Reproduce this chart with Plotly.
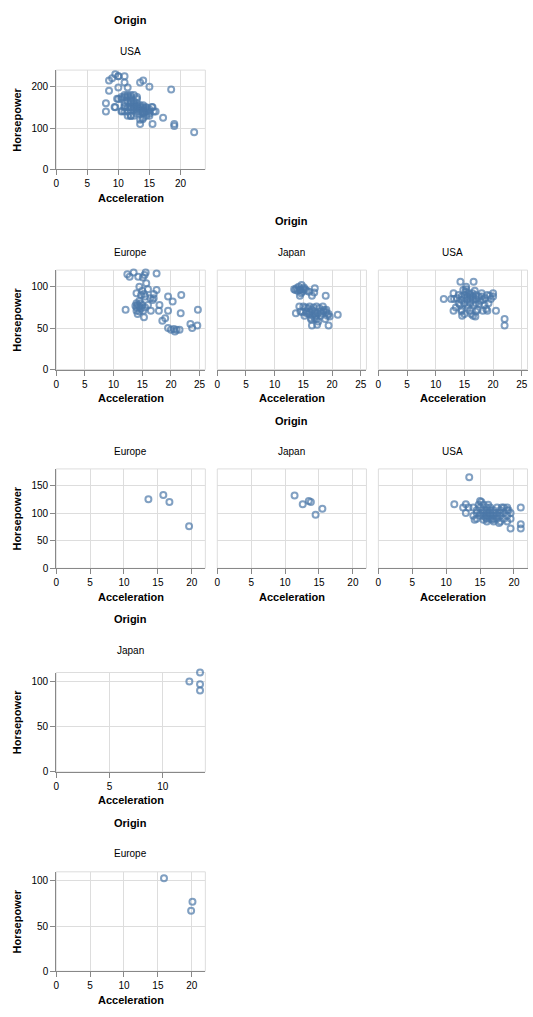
import plotly.graph_objects as go

# ---------------- data (Acceleration, Horsepower) ----------------
cyl8_usa = [
    (9.5, 230), (10.0, 225), (10.0, 225), (11.0, 225), (9.0, 220), (8.5, 215),
    (11.0, 210), (13.5, 210), (14.0, 215), (15.0, 200), (18.5, 193), (8.5, 190),
    (10.0, 198), (11.5, 198), (8.0, 160), (8.0, 140), (9.5, 150), (10.0, 170),
    (17.2, 125), (19.0, 110), (19.0, 105), (22.2, 90), (13.5, 110), (15.5, 110),
    (10.5, 140), (12.0, 130), (16.0, 140), (15.5, 150), (15.0, 130), (13.9, 121),
    (11.5, 180), (12.0, 180), (11.0, 180), (12.5, 180),
    (11.0, 175), (11.5, 175), (12.0, 175), (10.5, 175), (13.0, 175),
    (10.5, 170), (12.0, 170), (13.0, 170),
    (11.5, 165), (12.0, 165), (12.5, 165),
    (11.0, 160), (12.0, 160), (13.0, 160), (12.5, 158),
    (13.5, 155), (14.0, 155), (11.0, 153), (13.0, 153), (12.5, 153),
    (11.0, 150), (12.0, 150), (12.5, 150), (13.0, 150), (13.5, 150), (14.0, 150),
    (14.5, 150), (11.5, 150), (12.0, 150), (13.0, 150), (14.5, 149),
    (12.0, 145), (13.0, 145), (13.5, 145), (14.0, 145), (14.5, 145), (12.5, 145), (15.0, 145),
    (11.0, 140), (13.0, 140), (14.0, 140), (14.5, 140), (13.5, 140), (11.5, 140),
    (15.0, 140), (15.7, 140), (14.0, 139), (14.0, 137),
    (13.0, 135), (14.0, 135), (15.0, 135),
    (12.5, 130), (14.5, 130), (11.5, 130), (12.0, 129), (14.0, 125), (13.5, 120),
    (9.8, 171), (9.4, 151), (10.6, 141), (15.4, 151),
]

cyl4_europe = [
    (12.4, 115), (12.8, 112), (13.5, 117), (14.3, 112), (15.1, 111), (15.6, 117),
    (15.4, 114), (17.5, 116), (15.7, 104), (14.5, 100), (14.0, 92), (15.3, 91),
    (17.0, 91), (17.5, 96), (15.0, 95), (19.5, 88), (21.8, 90), (20.3, 82),
    (16.8, 84), (18.0, 78), (17.9, 71), (19.5, 71), (21.7, 68), (24.7, 72),
    (12.1, 72), (15.3, 63), (16.5, 71), (18.5, 59), (19.0, 62), (19.5, 50),
    (20.0, 48), (20.7, 46), (21.5, 48), (20.5, 49), (23.4, 55), (23.7, 50),
    (24.6, 53), (21.0, 48),
    (14.0, 75), (14.2, 78), (14.5, 76), (14.0, 80), (14.5, 70), (15.0, 78),
    (14.8, 74), (15.5, 75), (14.0, 71), (13.8, 77), (14.7, 80), (15.2, 71),
    (14.5, 83), (16.0, 78), (14.2, 67), (16.4, 86), (15.5, 88), (17.0, 86),
    (16.0, 97), (14.8, 90),
]

cyl4_japan = [
    (13.4, 97), (13.8, 98), (14.7, 102), (14.4, 96), (15.1, 99), (15.6, 95),
    (17.0, 98), (16.9, 93), (14.4, 89), (16.5, 89), (18.9, 89), (14.0, 95),
    (14.5, 97), (14.8, 94), (15.0, 97), (14.2, 100), (13.6, 96), (15.3, 97),
    (14.6, 92), (16.0, 94),
    (13.7, 68), (14.3, 76), (15.0, 76), (16.1, 76), (17.3, 76), (18.4, 76),
    (19.4, 67), (21.0, 66), (16.5, 53), (17.4, 54), (19.4, 53), (16.3, 62),
    (17.3, 61), (18.8, 61), (15.5, 70), (16.0, 67), (16.5, 72), (17.0, 70),
    (17.5, 68), (18.0, 65), (18.5, 70), (15.8, 74), (16.8, 75), (17.8, 74),
    (19.0, 69), (19.2, 65), (15.2, 65), (14.9, 69), (16.2, 70), (17.2, 65),
    (18.2, 68), (16.4, 60), (18.6, 72), (17.6, 58), (16.9, 67), (15.4, 75),
    (19.0, 72), (14.5, 70), (17.0, 62), (18.0, 70), (16.6, 65), (15.6, 68),
    (19.6, 64),
]

cyl4_usa = [
    (14.3, 106), (16.6, 106), (11.4, 85), (12.7, 85), (13.1, 92), (15.3, 97),
    (20.0, 92), (19.4, 89), (20.5, 71), (22.0, 61), (22.0, 53), (13.1, 71),
    (14.6, 65), (16.5, 65), (16.9, 64), (18.8, 73), (17.3, 72),
    (14.0, 90), (14.5, 88), (15.0, 90), (15.5, 88), (16.0, 90), (16.5, 88),
    (17.0, 85), (17.5, 88), (18.0, 88), (14.5, 84), (15.0, 86), (15.5, 84),
    (16.0, 86), (16.5, 84), (17.0, 90), (18.2, 84), (14.0, 80), (15.0, 80),
    (16.0, 80), (17.0, 80), (13.7, 86), (15.8, 92), (16.4, 92), (15.2, 94),
    (14.8, 96), (18.0, 92), (19.0, 90), (19.6, 85), (19.2, 80), (17.5, 79),
    (18.5, 78), (16.7, 78), (15.5, 78), (14.2, 78), (13.5, 75), (14.5, 70),
    (15.0, 67), (16.2, 67), (17.0, 70), (18.2, 71), (19.0, 71), (14.5, 72),
    (16.0, 71), (15.6, 75), (17.8, 83), (13.2, 85), (15.3, 100), (16.2, 88),
    (16.8, 95), (20.0, 88), (18.6, 86),
]

cyl6_europe = [(13.6, 125), (15.8, 133), (16.7, 120), (19.6, 76)]

cyl6_japan = [(11.4, 132), (12.6, 116), (13.5, 122), (13.8, 120), (14.5, 97), (15.5, 108)]

cyl6_usa = [
    (13.4, 165), (11.2, 116), (12.5, 110), (12.9, 116), (12.9, 100), (13.3, 110),
    (15.0, 122), (19.5, 72), (21.0, 110), (21.0, 80), (21.0, 72),
    (14.0, 110), (14.5, 105), (14.5, 100), (15.0, 110), (15.0, 100), (15.0, 95),
    (15.5, 105), (15.5, 100), (15.5, 95), (15.5, 88), (16.0, 110), (16.0, 105),
    (16.0, 100), (16.0, 95), (16.0, 90), (16.0, 85), (16.5, 110), (16.5, 105),
    (16.5, 100), (16.5, 95), (16.5, 90), (17.0, 105), (17.0, 100), (17.0, 95),
    (17.0, 90), (17.0, 85), (17.5, 100), (17.5, 95), (17.5, 90), (18.0, 105),
    (18.0, 100), (18.0, 95), (18.5, 110), (18.5, 100), (18.5, 90), (19.0, 105),
    (19.0, 110), (19.0, 95), (19.0, 85), (19.5, 100), (19.5, 90), (18.0, 85),
    (14.8, 115), (15.5, 115), (16.2, 115), (14.0, 95), (14.5, 90), (15.2, 120),
    (17.5, 110), (18.2, 110), (17.8, 82), (16.8, 88), (15.8, 92), (19.2, 105),
    (14.2, 88),
]

cyl3_japan = [(13.5, 97), (13.5, 90), (13.5, 110), (12.5, 100)]

cyl5_europe = [(15.9, 103), (20.1, 77), (19.9, 67)]

# ---------------- layout constants ----------------
W, H = 533, 1017
PW, PH = 150, 100
COL_LEFT = [53.5, 215.5, 377.5]
FONT = "Liberation Sans, Arial, Helvetica, sans-serif"
COLOR = "#4c78a8"

rows = [
    dict(top=70.5, title_y=20, sub_y=52, origins=["USA"], data=[cyl8_usa],
         xmax=24, ymax=240, ydtick=100),
    dict(top=271.7, title_y=222, sub_y=254, origins=["Europe", "Japan", "USA"],
         data=[cyl4_europe, cyl4_japan, cyl4_usa], xmax=26, ymax=120, ydtick=50),
    dict(top=471.7, title_y=423, sub_y=454, origins=["Europe", "Japan", "USA"],
         data=[cyl6_europe, cyl6_japan, cyl6_usa], xmax=22, ymax=180, ydtick=50),
    dict(top=676.5, title_y=623, sub_y=654, origins=["Japan"], data=[cyl3_japan],
         xmax=14, ymax=110, ydtick=50),
    dict(top=877, title_y=828, sub_y=859, origins=["Europe"], data=[cyl5_europe],
         xmax=22, ymax=110, ydtick=50),
]


def px(x):
    return x / W


def py(y):
    return 1 - y / H


fig = go.Figure()
layout = dict(
    width=W, height=H, autosize=False,
    margin=dict(l=0, r=0, t=0, b=0),
    paper_bgcolor="white", plot_bgcolor="rgba(0,0,0,0)",
    showlegend=False,
    font=dict(family=FONT, color="#000", size=10),
)
annotations = []
shapes = []

k = 0
for row in rows:
    top = row["top"]
    bottom = top + PH
    ncol = len(row["origins"])
    for c, (origin, pts) in enumerate(zip(row["origins"], row["data"])):
        k += 1
        left = COL_LEFT[c]
        right = left + PW
        xname = "x" if k == 1 else f"x{k}"
        yname = "y" if k == 1 else f"y{k}"
        xkey = "xaxis" if k == 1 else f"xaxis{k}"
        ykey = "yaxis" if k == 1 else f"yaxis{k}"
        fig.add_trace(go.Scatter(
            x=[p[0] for p in pts], y=[p[1] for p in pts],
            xaxis=xname, yaxis=yname, mode="markers", cliponaxis=False,
            marker=dict(symbol="circle-open", size=6, color=COLOR, opacity=0.7,
                        line=dict(width=2, color=COLOR)),
            hoverinfo="skip",
        ))
        layout[xkey] = dict(
            domain=[px(left), px(right)], range=[0, row["xmax"]], anchor=yname,
            tickmode="array", tickvals=list(range(0, row["xmax"] + 1, 5)),
            showgrid=True, gridcolor="#ddd", gridwidth=1, zeroline=False,
            showline=True, linecolor="#888", linewidth=1,
            ticks="outside", ticklen=5, tickcolor="#888", tickwidth=1,
            tickfont=dict(size=10, family=FONT, color="#000"), fixedrange=True,
        )
        ycfg = dict(
            domain=[py(bottom), py(top)], range=[0, row["ymax"]], anchor=xname,
            tickmode="linear", tick0=0, dtick=row["ydtick"],
            showgrid=True, gridcolor="#ddd", gridwidth=1, zeroline=False,
            fixedrange=True,
        )
        if c == 0:
            ycfg.update(showline=True, linecolor="#888", linewidth=1,
                        ticks="outside", ticklen=5, tickcolor="#888", tickwidth=1,
                        showticklabels=True,
                        tickfont=dict(size=10, family=FONT, color="#000"))
        else:
            ycfg.update(showline=False, ticks="", showticklabels=False)
        layout[ykey] = ycfg
        shapes.append(dict(type="rect", xref="paper", yref="paper",
                           x0=px(left), x1=px(right), y0=py(bottom), y1=py(top),
                           line=dict(color="#ddd", width=1), layer="below"))
        annotations.append(dict(text=origin, x=px((left + right) / 2), y=py(row["sub_y"]),
                                xref="paper", yref="paper", showarrow=False,
                                xanchor="center", yanchor="middle",
                                font=dict(size=10, family=FONT, color="#000")))
        annotations.append(dict(text="<b>Acceleration</b>", x=px((left + right) / 2),
                                y=py(bottom + 28.5), xref="paper", yref="paper",
                                showarrow=False, xanchor="center", yanchor="middle",
                                font=dict(size=11, family=FONT, color="#000")))
    annotations.append(dict(text="<b>Horsepower</b>", x=px(14), y=py(top + PH / 2),
                            xref="paper", yref="paper", showarrow=False, textangle=-90,
                            xanchor="center", yanchor="middle",
                            font=dict(size=11, family=FONT, color="#000")))
    row_left = COL_LEFT[0]
    row_right = COL_LEFT[ncol - 1] + PW
    annotations.append(dict(text="<b>Origin</b>", x=px((row_left + row_right) / 2),
                            y=py(row["title_y"]), xref="paper", yref="paper",
                            showarrow=False, xanchor="center", yanchor="middle",
                            font=dict(size=11, family=FONT, color="#000")))

layout["annotations"] = annotations
layout["shapes"] = shapes
fig.update_layout(**layout)

page_fix = (
    "var s=document.documentElement.style;s.margin='0';s.padding='0';s.overflow='hidden';"
    "var b=document.body.style;b.margin='0';b.padding='0';b.overflow='hidden';"
)
fig.write_html("out.html", config={"displayModeBar": False}, post_script=page_fix)
